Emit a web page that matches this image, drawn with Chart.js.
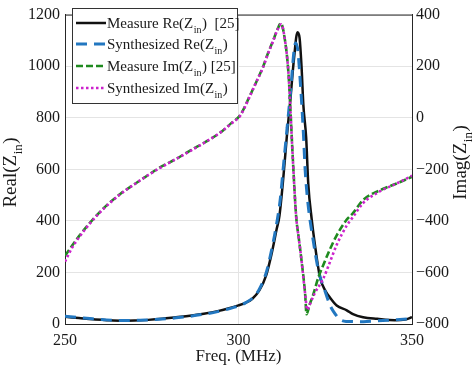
<!DOCTYPE html>
<html><head><meta charset="utf-8">
<script src="https://cdn.jsdelivr.net/npm/chart.js@4.4.1/dist/chart.umd.min.js"></script>
<style>html,body{margin:0;padding:0;background:#fff;overflow:hidden}#wrap{width:474px;height:370px;position:relative}</style>
</head><body><div id="wrap"><canvas id="c" width="474" height="370"></canvas></div>
<script>
// ---- data ----
const xTicks = [250, 300, 350];
const realTicks = [0, 200, 400, 600, 800, 1000, 1200];
const imagTicks = [-800, -600, -400, -200, 0, 200, 400];

const freqMeasRe = [250,254,258,262,266,270,274,278,282,286,290,294,297,300,302,304,306,308,309.5,311,311.8,313,313.9,314.8,316,317,317.6,318.2,318.7,319.5,320.1,321.1,322,323.5,325,326.4,328.3,331.2,333,335.9,340,345,348,350];
const measRe = [28,23,18,15,13,14,16,20,26,32,40,50,60,72,82,98,130,190,270,368,420,580,723,848,1030,1132,1110,990,848,723,545,406,310,180,130,102,72,53,38,26,20,15,17,26];

const freqSynRe = [250,254,258,262,266,270,274,278,282,286,290,294,297,300,302,304,306,308,309.5,311,312,313,314,315,316,316.5,317.1,318,318.7,319.2,320,321.6,323,324.9,326.4,327.3,329.2,331,336,340,343.7,348.5,350];
const synRe = [30,25,20,16,14,14,16,19,24,30,38,48,58,70,82,100,135,200,285,390,480,620,760,900,1060,1090,1060,900,740,600,470,318,210,129,72,50,18,10,9,12,15,19,20];

const freqMeasIm = [250,254,258,262,266,270,274,278,282,287,290,295,298,300.5,303.3,305,307,308.5,310,311.2,312.2,313.4,314.4,314.9,315.7,316.6,317.4,318.2,319.2,319.6,320.5,321.6,323,324.5,326.4,328.3,331.2,333,335.9,340.8,345.6,350];
const measIm = [-535,-460,-395,-340,-295,-258,-222,-188,-160,-120,-98,-55,-20,10,86,135,195,250,300,342,366,300,173,48,-170,-380,-470,-558,-683,-762,-725,-683,-620,-569,-509,-456,-395,-370,-319,-281,-255,-229];

const freqSynIm = [250,252,254,258,262,266,270,274,278,282,287,290,295,298,300.5,303.3,305,307,308.5,310,311.2,312.3,313.4,314.4,314.9,315.7,316.6,317.4,318.2,319.2,319.8,320.5,322,324.5,326.4,328.3,331.2,333,335.9,340.8,345.6,350];
const synIm = [-558,-505,-465,-397,-342,-296,-258,-222,-190,-160,-122,-98,-55,-22,8,84,135,193,248,298,340,362,300,173,48,-170,-380,-470,-558,-683,-745,-725,-680,-622,-558,-493,-418,-385,-331,-285,-255,-225];

const seriesNames = ['Measure Re(Z', 'Synthesized Re(Z', 'Measure Im(Z', 'Synthesized Im(Z'];
const seriesTails = [')  [25]', ')', ') [25]', ')'];

// ---- helpers ----
const pts = (xs, ys) => xs.map((x, i) => ({x: x, y: ys[i]}));
const FONT = "'Liberation Serif', 'Times New Roman', serif";
const minus = v => String(v).replace('-', '\u2212');

const colors = {black: '#111111', blue: '#2277c0', green: '#1f8a1f', magenta: '#cc22cc'};
const styles = [
  {color: colors.black, dash: [], width: 2.5},
  {color: colors.blue, dash: [11, 7], width: 3},
  {color: colors.green, dash: [7, 3], width: 2.6},
  {color: colors.magenta, dash: [2.5, 2.5], width: 2.6}
];

function drawSub(ctx, main, tail, x, y, size, align) {
  const subSize = Math.round(size * 0.68);
  ctx.font = size + 'px ' + FONT;
  const w1 = ctx.measureText(main).width;
  const w3 = ctx.measureText(tail).width;
  ctx.font = subSize + 'px ' + FONT;
  const w2 = ctx.measureText('in').width;
  const total = w1 + w2 + w3;
  let sx = align === 'center' ? x - total / 2 : x;
  ctx.textAlign = 'left';
  ctx.textBaseline = 'alphabetic';
  ctx.font = size + 'px ' + FONT;
  ctx.fillText(main, sx, y);
  ctx.font = subSize + 'px ' + FONT;
  ctx.fillText('in', sx + w1 + 0.5, y + size * 0.3);
  ctx.font = size + 'px ' + FONT;
  ctx.fillText(tail, sx + w1 + w2 + 1, y);
}

const decor = {
  id: 'decor',
  afterDraw(chart) {
    const ctx = chart.ctx;
    const a = chart.chartArea;
    ctx.save();
    // top frame line
    ctx.strokeStyle = '#262626';
    ctx.lineWidth = 1;
    ctx.beginPath();
    ctx.moveTo(a.left, a.top + 0.5);
    ctx.lineTo(a.right, a.top + 0.5);
    ctx.stroke();

    // legend box
    const lx = 72, ly = 8, lw = 165, lh = 95;
    ctx.fillStyle = '#ffffff';
    ctx.fillRect(lx, ly, lw, lh);
    ctx.strokeStyle = '#333333';
    ctx.strokeRect(lx + 0.5, ly + 0.5, lw, lh);
    const baselines = [28, 49, 71, 93];
    for (let i = 0; i < 4; i++) {
      const s = styles[i];
      const yy = baselines[i] - 5;
      ctx.strokeStyle = s.color;
      ctx.lineWidth = s.width;
      ctx.setLineDash(s.dash);
      ctx.beginPath();
      ctx.moveTo(76, yy);
      ctx.lineTo(106, yy);
      ctx.stroke();
      ctx.setLineDash([]);
      ctx.fillStyle = '#1a1a1a';
      drawSub(ctx, seriesNames[i], seriesTails[i], 107, baselines[i], 15, 'left');
    }

    // axis titles
    ctx.fillStyle = '#1a1a1a';
    ctx.font = '17px ' + FONT;
    ctx.textAlign = 'center';
    ctx.textBaseline = 'alphabetic';
    ctx.fillText('Freq. (MHz)', (a.left + a.right) / 2, 361);

    ctx.save();
    ctx.translate(16, 173);
    ctx.rotate(-Math.PI / 2);
    drawSub(ctx, 'Real(Z', ')', 0, 0, 19, 'center');
    ctx.restore();

    ctx.save();
    ctx.translate(466, 163);
    ctx.rotate(-Math.PI / 2);
    drawSub(ctx, 'Imag(Z', ')', 0, 0, 19, 'center');
    ctx.restore();

    ctx.restore();
  }
};

const mk = (label, data, st, order, axis) => ({
  label: label, data: data, yAxisID: axis,
  borderColor: st.color, borderWidth: st.width, borderDash: st.dash,
  pointRadius: 0, fill: false, tension: 0.35, cubicInterpolationMode: 'monotone',
  order: order
});

const tickFont = {family: FONT, size: 16};

new Chart(document.getElementById('c'), {
  type: 'line',
  data: {
    datasets: [
      mk(seriesNames[0] + 'in' + seriesTails[0], pts(freqMeasRe, measRe), styles[0], 4, 'y'),
      mk(seriesNames[1] + 'in' + seriesTails[1], pts(freqSynRe, synRe), styles[1], 3, 'y'),
      mk(seriesNames[2] + 'in' + seriesTails[2], pts(freqMeasIm, measIm), styles[2], 2, 'y1'),
      mk(seriesNames[3] + 'in' + seriesTails[3], pts(freqSynIm, synIm), styles[3], 1, 'y1')
    ]
  },
  options: {
    responsive: false,
    animation: false,
    devicePixelRatio: 1,
    layout: {padding: {top: 7, left: 0, right: 0, bottom: 0}},
    plugins: {legend: {display: false}, tooltip: {enabled: false}},
    scales: {
      x: {
        type: 'linear', min: 250, max: 350,
        afterBuildTicks: s => { s.ticks = xTicks.map(v => ({value: v})); },
        afterFit: s => { s.height = 46; },
        grid: {color: '#e4e4e4', drawTicks: false},
        border: {display: true, color: '#262626', width: 1},
        ticks: {font: tickFont, color: '#1a1a1a', padding: 7, maxRotation: 0}
      },
      y: {
        position: 'left', min: 0, max: 1200,
        afterBuildTicks: s => { s.ticks = realTicks.map(v => ({value: v})); },
        afterFit: s => { s.width = 65; },
        grid: {color: '#e4e4e4', drawTicks: false},
        border: {display: true, color: '#262626', width: 1},
        ticks: {font: tickFont, color: '#1a1a1a', padding: 5, callback: v => minus(v)}
      },
      y1: {
        position: 'right', min: -800, max: 400,
        afterBuildTicks: s => { s.ticks = imagTicks.map(v => ({value: v})); },
        afterFit: s => { s.width = 62; },
        grid: {drawOnChartArea: false, drawTicks: false},
        border: {display: true, color: '#262626', width: 1},
        ticks: {font: tickFont, color: '#1a1a1a', padding: 4, callback: v => minus(v)}
      }
    }
  },
  plugins: [decor]
});
</script>
</body></html>
